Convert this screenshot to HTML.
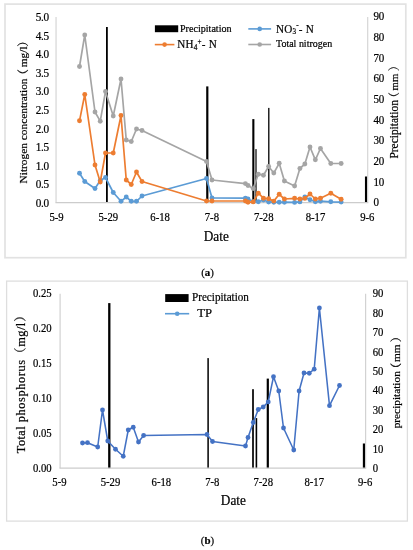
<!DOCTYPE html>
<html lang="en"><head><meta charset="utf-8"><title>Figure</title>
<style>html,body{margin:0;padding:0;background:#fff}svg{display:block}text{font-family:"Liberation Serif", "Noto Serif CJK SC", serif;fill:#000;stroke:#000;stroke-width:0.2px}</style>
</head><body>
<svg width="413" height="550" viewBox="0 0 413 550">
<rect x="0" y="0" width="413" height="550" fill="#fff"/>
<g id="chart-a">
<rect x="5" y="4.1" width="400.8" height="253.6" fill="#fff" stroke="#E2E2E2" stroke-width="1.7"/>
<rect x="106.00" y="27" width="1.8" height="175.60" fill="#000"/>
<rect x="206.20" y="86.4" width="2.2" height="116.20" fill="#000"/>
<rect x="252.30" y="119.1" width="2.1" height="83.50" fill="#000"/>
<rect x="255.40" y="149.1" width="1.2" height="53.50" fill="#000"/>
<rect x="268.15" y="107.9" width="1.3" height="94.70" fill="#000"/>
<rect x="364.95" y="176.5" width="2.3" height="26.10" fill="#000"/>
<path d="M56.05 17V202.6M367.7 202.6V17" fill="none" stroke="#D6D6D6" stroke-width="1.2"/>
<path d="M55.449999999999996 202.6H368.3" fill="none" stroke="#CCCCCC" stroke-width="1.4"/>
<polyline points="79.50,173.30 84.75,181.50 95.00,188.50 100.25,180.50 105.50,177.50 113.25,192.50 121.00,201.30 126.25,197.00 131.25,201.30 136.50,201.30 142.00,196.00 206.50,178.50 212.00,198.00 245.40,198.20 248.00,199.00 253.20,201.60 258.30,201.80 263.45,200.00 268.65,202.00 273.80,202.20 279.20,202.30 284.40,202.20 294.60,202.40 299.90,201.90 304.85,196.90 310.00,199.80 315.35,201.80 320.45,201.20 330.80,201.80 341.15,202.10" fill="none" stroke="#5B9BD5" stroke-width="1.7" stroke-linejoin="round" stroke-linecap="round"/>
<circle cx="79.50" cy="173.30" r="2.45" fill="#5B9BD5"/>
<circle cx="84.75" cy="181.50" r="2.45" fill="#5B9BD5"/>
<circle cx="95.00" cy="188.50" r="2.45" fill="#5B9BD5"/>
<circle cx="100.25" cy="180.50" r="2.45" fill="#5B9BD5"/>
<circle cx="105.50" cy="177.50" r="2.45" fill="#5B9BD5"/>
<circle cx="113.25" cy="192.50" r="2.45" fill="#5B9BD5"/>
<circle cx="121.00" cy="201.30" r="2.45" fill="#5B9BD5"/>
<circle cx="126.25" cy="197.00" r="2.45" fill="#5B9BD5"/>
<circle cx="131.25" cy="201.30" r="2.45" fill="#5B9BD5"/>
<circle cx="136.50" cy="201.30" r="2.45" fill="#5B9BD5"/>
<circle cx="142.00" cy="196.00" r="2.45" fill="#5B9BD5"/>
<circle cx="206.50" cy="178.50" r="2.45" fill="#5B9BD5"/>
<circle cx="212.00" cy="198.00" r="2.45" fill="#5B9BD5"/>
<circle cx="245.40" cy="198.20" r="2.45" fill="#5B9BD5"/>
<circle cx="248.00" cy="199.00" r="2.45" fill="#5B9BD5"/>
<circle cx="253.20" cy="201.60" r="2.45" fill="#5B9BD5"/>
<circle cx="258.30" cy="201.80" r="2.45" fill="#5B9BD5"/>
<circle cx="263.45" cy="200.00" r="2.45" fill="#5B9BD5"/>
<circle cx="268.65" cy="202.00" r="2.45" fill="#5B9BD5"/>
<circle cx="273.80" cy="202.20" r="2.45" fill="#5B9BD5"/>
<circle cx="279.20" cy="202.30" r="2.45" fill="#5B9BD5"/>
<circle cx="284.40" cy="202.20" r="2.45" fill="#5B9BD5"/>
<circle cx="294.60" cy="202.40" r="2.45" fill="#5B9BD5"/>
<circle cx="299.90" cy="201.90" r="2.45" fill="#5B9BD5"/>
<circle cx="304.85" cy="196.90" r="2.45" fill="#5B9BD5"/>
<circle cx="310.00" cy="199.80" r="2.45" fill="#5B9BD5"/>
<circle cx="315.35" cy="201.80" r="2.45" fill="#5B9BD5"/>
<circle cx="320.45" cy="201.20" r="2.45" fill="#5B9BD5"/>
<circle cx="330.80" cy="201.80" r="2.45" fill="#5B9BD5"/>
<circle cx="341.15" cy="202.10" r="2.45" fill="#5B9BD5"/>
<polyline points="79.50,120.80 84.75,94.50 95.00,165.00 100.25,182.00 105.50,153.00 113.25,153.00 121.00,115.50 126.25,180.00 131.25,184.50 136.50,172.00 142.00,181.50 206.50,201.00 212.00,201.00 245.40,201.00 248.00,202.30 253.20,201.90 258.30,193.20 263.45,198.20 268.65,198.80 273.80,201.10 279.20,194.30 284.40,199.00 294.60,198.30 299.90,199.00 304.85,198.40 310.00,194.00 315.35,199.00 320.45,198.20 330.80,193.30 341.15,199.20" fill="none" stroke="#ED7D31" stroke-width="1.7" stroke-linejoin="round" stroke-linecap="round"/>
<circle cx="79.50" cy="120.80" r="2.45" fill="#ED7D31"/>
<circle cx="84.75" cy="94.50" r="2.45" fill="#ED7D31"/>
<circle cx="95.00" cy="165.00" r="2.45" fill="#ED7D31"/>
<circle cx="100.25" cy="182.00" r="2.45" fill="#ED7D31"/>
<circle cx="105.50" cy="153.00" r="2.45" fill="#ED7D31"/>
<circle cx="113.25" cy="153.00" r="2.45" fill="#ED7D31"/>
<circle cx="121.00" cy="115.50" r="2.45" fill="#ED7D31"/>
<circle cx="126.25" cy="180.00" r="2.45" fill="#ED7D31"/>
<circle cx="131.25" cy="184.50" r="2.45" fill="#ED7D31"/>
<circle cx="136.50" cy="172.00" r="2.45" fill="#ED7D31"/>
<circle cx="142.00" cy="181.50" r="2.45" fill="#ED7D31"/>
<circle cx="206.50" cy="201.00" r="2.45" fill="#ED7D31"/>
<circle cx="212.00" cy="201.00" r="2.45" fill="#ED7D31"/>
<circle cx="245.40" cy="201.00" r="2.45" fill="#ED7D31"/>
<circle cx="248.00" cy="202.30" r="2.45" fill="#ED7D31"/>
<circle cx="253.20" cy="201.90" r="2.45" fill="#ED7D31"/>
<circle cx="258.30" cy="193.20" r="2.45" fill="#ED7D31"/>
<circle cx="263.45" cy="198.20" r="2.45" fill="#ED7D31"/>
<circle cx="268.65" cy="198.80" r="2.45" fill="#ED7D31"/>
<circle cx="273.80" cy="201.10" r="2.45" fill="#ED7D31"/>
<circle cx="279.20" cy="194.30" r="2.45" fill="#ED7D31"/>
<circle cx="284.40" cy="199.00" r="2.45" fill="#ED7D31"/>
<circle cx="294.60" cy="198.30" r="2.45" fill="#ED7D31"/>
<circle cx="299.90" cy="199.00" r="2.45" fill="#ED7D31"/>
<circle cx="304.85" cy="198.40" r="2.45" fill="#ED7D31"/>
<circle cx="310.00" cy="194.00" r="2.45" fill="#ED7D31"/>
<circle cx="315.35" cy="199.00" r="2.45" fill="#ED7D31"/>
<circle cx="320.45" cy="198.20" r="2.45" fill="#ED7D31"/>
<circle cx="330.80" cy="193.30" r="2.45" fill="#ED7D31"/>
<circle cx="341.15" cy="199.20" r="2.45" fill="#ED7D31"/>
<polyline points="79.50,66.50 84.75,35.00 95.00,112.00 100.25,121.20 105.50,91.50 113.25,116.00 121.00,79.00 126.25,140.00 131.25,141.50 136.50,129.00 142.00,130.50 206.50,161.50 212.00,180.00 245.40,183.60 248.00,185.50 253.20,188.60 258.30,174.20 263.45,175.20 268.65,166.50 273.80,173.00 279.20,163.30 284.40,181.00 294.60,186.00 299.90,168.50 304.85,164.00 310.00,147.00 315.35,159.80 320.45,148.50 330.80,163.50 341.15,163.50" fill="none" stroke="#A5A5A5" stroke-width="1.7" stroke-linejoin="round" stroke-linecap="round"/>
<circle cx="79.50" cy="66.50" r="2.45" fill="#A5A5A5"/>
<circle cx="84.75" cy="35.00" r="2.45" fill="#A5A5A5"/>
<circle cx="95.00" cy="112.00" r="2.45" fill="#A5A5A5"/>
<circle cx="100.25" cy="121.20" r="2.45" fill="#A5A5A5"/>
<circle cx="105.50" cy="91.50" r="2.45" fill="#A5A5A5"/>
<circle cx="113.25" cy="116.00" r="2.45" fill="#A5A5A5"/>
<circle cx="121.00" cy="79.00" r="2.45" fill="#A5A5A5"/>
<circle cx="126.25" cy="140.00" r="2.45" fill="#A5A5A5"/>
<circle cx="131.25" cy="141.50" r="2.45" fill="#A5A5A5"/>
<circle cx="136.50" cy="129.00" r="2.45" fill="#A5A5A5"/>
<circle cx="142.00" cy="130.50" r="2.45" fill="#A5A5A5"/>
<circle cx="206.50" cy="161.50" r="2.45" fill="#A5A5A5"/>
<circle cx="212.00" cy="180.00" r="2.45" fill="#A5A5A5"/>
<circle cx="245.40" cy="183.60" r="2.45" fill="#A5A5A5"/>
<circle cx="248.00" cy="185.50" r="2.45" fill="#A5A5A5"/>
<circle cx="253.20" cy="188.60" r="2.45" fill="#A5A5A5"/>
<circle cx="258.30" cy="174.20" r="2.45" fill="#A5A5A5"/>
<circle cx="263.45" cy="175.20" r="2.45" fill="#A5A5A5"/>
<circle cx="268.65" cy="166.50" r="2.45" fill="#A5A5A5"/>
<circle cx="273.80" cy="173.00" r="2.45" fill="#A5A5A5"/>
<circle cx="279.20" cy="163.30" r="2.45" fill="#A5A5A5"/>
<circle cx="284.40" cy="181.00" r="2.45" fill="#A5A5A5"/>
<circle cx="294.60" cy="186.00" r="2.45" fill="#A5A5A5"/>
<circle cx="299.90" cy="168.50" r="2.45" fill="#A5A5A5"/>
<circle cx="304.85" cy="164.00" r="2.45" fill="#A5A5A5"/>
<circle cx="310.00" cy="147.00" r="2.45" fill="#A5A5A5"/>
<circle cx="315.35" cy="159.80" r="2.45" fill="#A5A5A5"/>
<circle cx="320.45" cy="148.50" r="2.45" fill="#A5A5A5"/>
<circle cx="330.80" cy="163.50" r="2.45" fill="#A5A5A5"/>
<circle cx="341.15" cy="163.50" r="2.45" fill="#A5A5A5"/>
<text transform="translate(48.8,21.099999999999998) scale(1,1.05)" font-size="11.2" text-anchor="end" letter-spacing="-0.3">5.0</text>
<text transform="translate(48.8,39.68) scale(1,1.05)" font-size="11.2" text-anchor="end" letter-spacing="-0.3">4.5</text>
<text transform="translate(48.8,58.26) scale(1,1.05)" font-size="11.2" text-anchor="end" letter-spacing="-0.3">4.0</text>
<text transform="translate(48.8,76.84) scale(1,1.05)" font-size="11.2" text-anchor="end" letter-spacing="-0.3">3.5</text>
<text transform="translate(48.8,95.42) scale(1,1.05)" font-size="11.2" text-anchor="end" letter-spacing="-0.3">3.0</text>
<text transform="translate(48.8,114.0) scale(1,1.05)" font-size="11.2" text-anchor="end" letter-spacing="-0.3">2.5</text>
<text transform="translate(48.8,132.57999999999998) scale(1,1.05)" font-size="11.2" text-anchor="end" letter-spacing="-0.3">2.0</text>
<text transform="translate(48.8,151.16) scale(1,1.05)" font-size="11.2" text-anchor="end" letter-spacing="-0.3">1.5</text>
<text transform="translate(48.8,169.73999999999998) scale(1,1.05)" font-size="11.2" text-anchor="end" letter-spacing="-0.3">1.0</text>
<text transform="translate(48.8,188.31999999999996) scale(1,1.05)" font-size="11.2" text-anchor="end" letter-spacing="-0.3">0.5</text>
<text transform="translate(48.8,206.89999999999998) scale(1,1.05)" font-size="11.2" text-anchor="end" letter-spacing="-0.3">0.0</text>
<text transform="translate(373.6,20.299999999999997) scale(1,1.08)" font-size="11" text-anchor="start" letter-spacing="-0.3">90</text>
<text transform="translate(373.6,40.949999999999996) scale(1,1.08)" font-size="11" text-anchor="start" letter-spacing="-0.3">80</text>
<text transform="translate(373.6,61.599999999999994) scale(1,1.08)" font-size="11" text-anchor="start" letter-spacing="-0.3">70</text>
<text transform="translate(373.6,82.25) scale(1,1.08)" font-size="11" text-anchor="start" letter-spacing="-0.3">60</text>
<text transform="translate(373.6,102.9) scale(1,1.08)" font-size="11" text-anchor="start" letter-spacing="-0.3">50</text>
<text transform="translate(373.6,123.55000000000001) scale(1,1.08)" font-size="11" text-anchor="start" letter-spacing="-0.3">40</text>
<text transform="translate(373.6,144.2) scale(1,1.08)" font-size="11" text-anchor="start" letter-spacing="-0.3">30</text>
<text transform="translate(373.6,164.85) scale(1,1.08)" font-size="11" text-anchor="start" letter-spacing="-0.3">20</text>
<text transform="translate(373.6,185.5) scale(1,1.08)" font-size="11" text-anchor="start" letter-spacing="-0.3">10</text>
<text transform="translate(373.6,206.15) scale(1,1.08)" font-size="11" text-anchor="start" letter-spacing="-0.3">0</text>
<text transform="translate(56.50,220.8) scale(1,1.1)" font-size="10.7" text-anchor="middle" >5-9</text>
<text transform="translate(108.30,220.8) scale(1,1.1)" font-size="10.7" text-anchor="middle" >5-29</text>
<text transform="translate(160.10,220.8) scale(1,1.1)" font-size="10.7" text-anchor="middle" >6-18</text>
<text transform="translate(211.90,220.8) scale(1,1.1)" font-size="10.7" text-anchor="middle" >7-8</text>
<text transform="translate(263.70,220.8) scale(1,1.1)" font-size="10.7" text-anchor="middle" >7-28</text>
<text transform="translate(315.50,220.8) scale(1,1.1)" font-size="10.7" text-anchor="middle" >8-17</text>
<text transform="translate(367.30,220.8) scale(1,1.1)" font-size="10.7" text-anchor="middle" >9-6</text>
<text transform="translate(216.25,241.1) scale(1,1.1)" font-size="13.3" text-anchor="middle" >Date</text>
<text transform="translate(26.7,183.4) rotate(-90)" font-size="11.35" text-anchor="start" >Nitrogen concentration<tspan dx="-1.9">（</tspan><tspan dx="1.8">mg/l</tspan><tspan dx="-0.3">）</tspan></text>
<text transform="translate(397.8,158.6) rotate(-90)" font-size="11.45" text-anchor="start" >Precipitation<tspan dx="-3.4">（</tspan><tspan dx="1.7" font-size="10.7">mm</tspan><tspan dx="2.5">）</tspan></text>
<rect x="154.9" y="25.3" width="23.3" height="6.9" fill="#000"/>
<text transform="translate(180,31.6) scale(1,1.13)" font-size="10.1" text-anchor="start" >Precipitation</text>
<path d="M154.8 44.6H174.4" stroke="#ED7D31" stroke-width="1.6"/><circle cx="164.6" cy="44.6" r="2.3" fill="#ED7D31"/>
<text transform="translate(177.3,47.9) scale(1,1.05)" font-size="11.1" text-anchor="start" letter-spacing="0.2">NH<tspan font-size="7.2" dy="1.8">4</tspan><tspan font-size="7.2" dy="-5.8">+</tspan><tspan dy="4">- N</tspan></text>
<path d="M248.3 28.9H271.1" stroke="#5B9BD5" stroke-width="1.6"/><circle cx="259.7" cy="28.9" r="2.3" fill="#5B9BD5"/>
<text transform="translate(276,32.5) scale(1,1.05)" font-size="11.1" text-anchor="start" letter-spacing="0.2">NO<tspan font-size="7.2" dy="1.8">3</tspan><tspan font-size="7.2" dy="-5.8">-</tspan><tspan dy="4">- N</tspan></text>
<path d="M248.3 44.5H271.1" stroke="#A5A5A5" stroke-width="1.6"/><circle cx="259.7" cy="44.5" r="2.3" fill="#A5A5A5"/>
<text transform="translate(276,46.9) scale(1,1.13)" font-size="10" text-anchor="start" >Total nitrogen</text>
</g>
<text x="207.6" y="276.3" font-size="10.9" text-anchor="middle" stroke-width="0">(<tspan font-weight="bold">a</tspan>)</text>
<g id="chart-b">
<rect x="6.6" y="281.1" width="400.8" height="240" fill="#fff" stroke="#DEDEDE" stroke-width="1.3"/>
<rect x="108.15" y="303.1" width="2.3" height="165.10" fill="#000"/>
<rect x="207.35" y="358.1" width="1.5" height="110.10" fill="#000"/>
<rect x="252.15" y="389.2" width="1.7" height="79.00" fill="#000"/>
<rect x="255.60" y="418.1" width="1.6" height="50.10" fill="#000"/>
<rect x="266.70" y="378.6" width="2.2" height="89.60" fill="#000"/>
<rect x="362.85" y="443.5" width="2.3" height="24.70" fill="#000"/>
<path d="M60.1 293.7V468.2M365.6 468.2V293.7" fill="none" stroke="#D2D2D2" stroke-width="1.2"/>
<path d="M59.5 468.2H366.20000000000005" fill="none" stroke="#CCCCCC" stroke-width="1.3"/>
<polyline points="82.50,443.00 87.50,442.70 97.70,447.00 102.50,410.00 107.75,441.00 115.50,449.25 123.25,456.25 128.25,430.00 133.25,427.25 138.50,442.00 143.60,435.50 207.00,434.50 212.50,441.50 245.50,446.00 248.00,437.50 253.25,422.50 258.25,409.50 263.25,407.00 268.25,401.90 273.50,376.75 278.75,391.00 283.50,428.00 293.75,450.00 299.10,391.00 304.00,373.00 309.25,373.25 314.20,369.20 319.40,308.00 329.50,405.70 339.50,385.50" fill="none" stroke="#4472C4" stroke-width="1.55" stroke-linejoin="round" stroke-linecap="round"/>
<circle cx="82.50" cy="443.00" r="2.4" fill="#4472C4"/>
<circle cx="87.50" cy="442.70" r="2.4" fill="#4472C4"/>
<circle cx="97.70" cy="447.00" r="2.4" fill="#4472C4"/>
<circle cx="102.50" cy="410.00" r="2.4" fill="#4472C4"/>
<circle cx="107.75" cy="441.00" r="2.4" fill="#4472C4"/>
<circle cx="115.50" cy="449.25" r="2.4" fill="#4472C4"/>
<circle cx="123.25" cy="456.25" r="2.4" fill="#4472C4"/>
<circle cx="128.25" cy="430.00" r="2.4" fill="#4472C4"/>
<circle cx="133.25" cy="427.25" r="2.4" fill="#4472C4"/>
<circle cx="138.50" cy="442.00" r="2.4" fill="#4472C4"/>
<circle cx="143.60" cy="435.50" r="2.4" fill="#4472C4"/>
<circle cx="207.00" cy="434.50" r="2.4" fill="#4472C4"/>
<circle cx="212.50" cy="441.50" r="2.4" fill="#4472C4"/>
<circle cx="245.50" cy="446.00" r="2.4" fill="#4472C4"/>
<circle cx="248.00" cy="437.50" r="2.4" fill="#4472C4"/>
<circle cx="253.25" cy="422.50" r="2.4" fill="#4472C4"/>
<circle cx="258.25" cy="409.50" r="2.4" fill="#4472C4"/>
<circle cx="263.25" cy="407.00" r="2.4" fill="#4472C4"/>
<circle cx="268.25" cy="401.90" r="2.4" fill="#4472C4"/>
<circle cx="273.50" cy="376.75" r="2.4" fill="#4472C4"/>
<circle cx="278.75" cy="391.00" r="2.4" fill="#4472C4"/>
<circle cx="283.50" cy="428.00" r="2.4" fill="#4472C4"/>
<circle cx="293.75" cy="450.00" r="2.4" fill="#4472C4"/>
<circle cx="299.10" cy="391.00" r="2.4" fill="#4472C4"/>
<circle cx="304.00" cy="373.00" r="2.4" fill="#4472C4"/>
<circle cx="309.25" cy="373.25" r="2.4" fill="#4472C4"/>
<circle cx="314.20" cy="369.20" r="2.4" fill="#4472C4"/>
<circle cx="319.40" cy="308.00" r="2.4" fill="#4472C4"/>
<circle cx="329.50" cy="405.70" r="2.4" fill="#4472C4"/>
<circle cx="339.50" cy="385.50" r="2.4" fill="#4472C4"/>
<text transform="translate(51.6,297.45) scale(1,1.08)" font-size="10.7" text-anchor="end" >0.25</text>
<text transform="translate(51.6,332.37) scale(1,1.08)" font-size="10.7" text-anchor="end" >0.20</text>
<text transform="translate(51.6,367.28999999999996) scale(1,1.08)" font-size="10.7" text-anchor="end" >0.15</text>
<text transform="translate(51.6,402.21) scale(1,1.08)" font-size="10.7" text-anchor="end" >0.10</text>
<text transform="translate(51.6,437.13) scale(1,1.08)" font-size="10.7" text-anchor="end" >0.05</text>
<text transform="translate(51.6,472.05) scale(1,1.08)" font-size="10.7" text-anchor="end" >0.00</text>
<text transform="translate(372.7,297.34999999999997) scale(1,1.07)" font-size="10.7" text-anchor="start" >90</text>
<text transform="translate(372.7,316.74999999999994) scale(1,1.07)" font-size="10.7" text-anchor="start" >80</text>
<text transform="translate(372.7,336.15) scale(1,1.07)" font-size="10.7" text-anchor="start" >70</text>
<text transform="translate(372.7,355.54999999999995) scale(1,1.07)" font-size="10.7" text-anchor="start" >60</text>
<text transform="translate(372.7,374.95) scale(1,1.07)" font-size="10.7" text-anchor="start" >50</text>
<text transform="translate(372.7,394.34999999999997) scale(1,1.07)" font-size="10.7" text-anchor="start" >40</text>
<text transform="translate(372.7,413.74999999999994) scale(1,1.07)" font-size="10.7" text-anchor="start" >30</text>
<text transform="translate(372.7,433.1499999999999) scale(1,1.07)" font-size="10.7" text-anchor="start" >20</text>
<text transform="translate(372.7,452.54999999999995) scale(1,1.07)" font-size="10.7" text-anchor="start" >10</text>
<text transform="translate(372.7,471.95) scale(1,1.07)" font-size="10.7" text-anchor="start" >0</text>
<text transform="translate(59.50,485.5) scale(1,1.08)" font-size="10.7" text-anchor="middle" >5-9</text>
<text transform="translate(110.44,485.5) scale(1,1.08)" font-size="10.7" text-anchor="middle" >5-29</text>
<text transform="translate(161.38,485.5) scale(1,1.08)" font-size="10.7" text-anchor="middle" >6-18</text>
<text transform="translate(212.32,485.5) scale(1,1.08)" font-size="10.7" text-anchor="middle" >7-8</text>
<text transform="translate(263.26,485.5) scale(1,1.08)" font-size="10.7" text-anchor="middle" >7-28</text>
<text transform="translate(314.20,485.5) scale(1,1.08)" font-size="10.7" text-anchor="middle" >8-17</text>
<text transform="translate(365.14,485.5) scale(1,1.08)" font-size="10.7" text-anchor="middle" >9-6</text>
<text transform="translate(233.4,504.5) scale(1,1.12)" font-size="13.3" text-anchor="middle" >Date</text>
<text transform="translate(24.6,453.2) rotate(-90)" font-size="12.3" text-anchor="start" letter-spacing="0.45" stroke-width="0.1">Total <tspan letter-spacing="0.63">phosphorus</tspan><tspan dx="-0.4">（</tspan><tspan dx="0.3">mg/l</tspan><tspan dx="0.6">）</tspan></text>
<text transform="translate(399.5,428.3) rotate(-90)" font-size="11.3" text-anchor="start" >precipitation<tspan dx="-3.1">（</tspan><tspan dx="0.9">mm</tspan><tspan dx="2.2">）</tspan></text>
<rect x="165.2" y="294.1" width="23.4" height="7.9" fill="#000"/>
<text transform="translate(192,301.3) scale(1,1.07)" font-size="11.15" text-anchor="start" >Precipitation</text>
<path d="M165 313.7H189.2" stroke="#5B9BD5" stroke-width="1.6"/><circle cx="177.2" cy="313.7" r="2.3" fill="#5B9BD5"/>
<text x="197.2" y="317" font-size="12.7" text-anchor="start" >TP</text>
</g>
<text x="207.5" y="544.1" font-size="10.9" text-anchor="middle" stroke-width="0">(<tspan font-weight="bold">b</tspan>)</text>
</svg></body></html>
